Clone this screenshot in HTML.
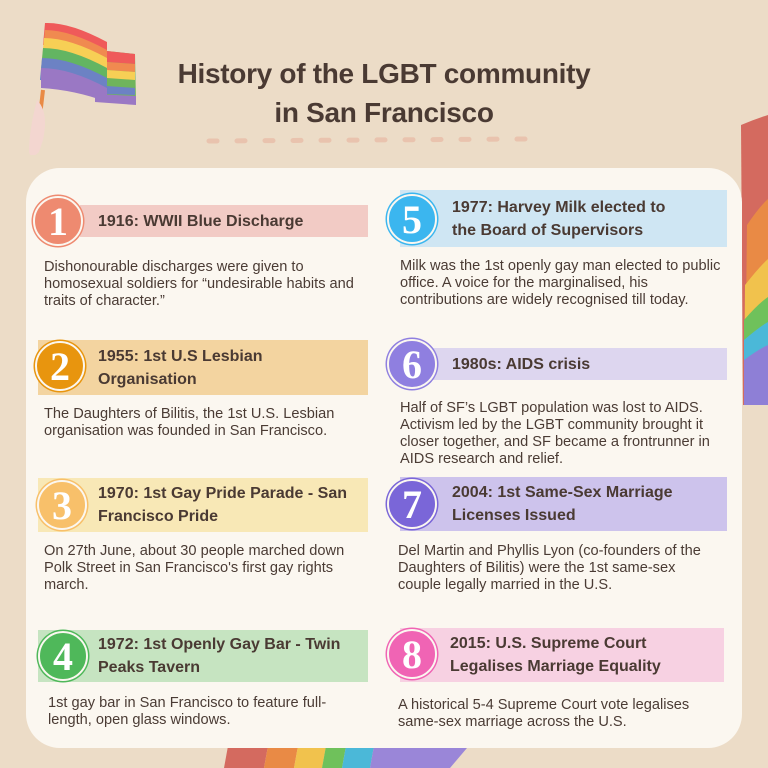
<!DOCTYPE html>
<html><head><meta charset="utf-8"><style>
*{margin:0;padding:0;box-sizing:border-box}
body{width:768px;height:768px;background:#ecdcc7;position:relative;overflow:hidden;font-family:"Liberation Sans",sans-serif;color:#4a3b34}
.abs{position:absolute}
h1{position:absolute;left:0;width:768px;top:54px;text-align:center;font-size:28px;line-height:39px;font-weight:bold;color:#4a3a33;letter-spacing:-0.3px}
.card{left:26px;top:168px;width:716px;height:580px;background:#fbf7f0;border-radius:34px}
.bar{position:absolute;font-weight:bold;font-size:16px;line-height:23px;color:#4a3a33;display:flex;align-items:center}
.badge{position:absolute;width:50px;height:50px;border-radius:50%;border:2px solid #fbf7f0;box-shadow:0 0 0 1.5px currentColor;display:flex;align-items:center;justify-content:center;font-family:"Liberation Serif",serif;font-weight:bold;font-size:40px;color:#fff}
.badge span{color:#fff}
.txt{position:absolute;font-size:14.6px;line-height:17px;color:#4a3b34}
</style></head><body>
<svg class="abs" style="left:735px;top:115px" width="33" height="290">
<path d="M6 10 Q20 4 33 0 L33 290 L8 290 Z" fill="#d46a5f"/>
<path d="M12 110 Q24 92 33 84 L33 290 L10 290 Z" fill="#e98a45"/>
<path d="M10 170 Q24 152 33 144 L33 290 L9 290Z" fill="#f1c24d"/>
<path d="M9 205 Q24 188 33 182 L33 290 L9 290Z" fill="#6fc15b"/>
<path d="M9 225 Q24 212 33 207 L33 290 L9 290Z" fill="#4bb8d8"/>
<path d="M9 245 Q24 234 33 230 L33 290 L9 290Z" fill="#8e7fd6"/>
</svg>
<svg class="abs" style="left:210px;top:735px" width="280" height="33">
<path d="M14 33 L20 0 L60 0 L54 33Z" fill="#d46a5f"/>
<path d="M54 33 L60 0 L90 0 L84 33Z" fill="#e98a45"/>
<path d="M84 33 L90 0 L118 0 L112 33Z" fill="#f1c24d"/>
<path d="M112 33 L118 0 L138 0 L132 33Z" fill="#6fc15b"/>
<path d="M132 33 L138 0 L166 0 L160 33Z" fill="#4bb8d8"/>
<path d="M160 33 L166 0 L268 0 L240 33Z" fill="#9a86d8"/>
</svg>
<div class="abs card"></div>
<svg class="abs" style="left:15px;top:20px" width="125" height="135">
<path d="M28 70 L22 122" stroke="#e98a45" stroke-width="4"/>
<path d="M22 80 Q34 92 28 120 L24 132 Q16 140 14 132 Q14 110 22 80Z" fill="#f3d6d0"/>
<g>
<path d="M30 3 Q55 2 92 22 L92 42 Q60 22 28 25Z" fill="#ef5a5a"/>
<path d="M30 10 Q55 10 92 30 L92 50 Q60 30 28 32Z" fill="#f08a50"/>
<path d="M29 18 Q55 18 92 38 L92 58 Q60 40 27 40Z" fill="#f7cf55"/>
<path d="M28 28 Q55 28 92 48 L92 68 Q60 50 26 50Z" fill="#63b562"/>
<path d="M27 38 Q55 38 92 58 L92 78 Q60 60 25 60Z" fill="#6c82c4"/>
<path d="M26 48 Q55 48 92 68 L92 82 Q60 70 26 68Z" fill="#9a78c4"/>
<path d="M92 31 L120 34 L121 82 L92 80Z" fill="#6fb45c"/>
<path d="M92 31 L120 34 L120 44 L92 42Z" fill="#ef5a5a"/>
<path d="M92 42 L120 44 L120 52 L92 50Z" fill="#f08a50"/>
<path d="M92 50 L120 52 L120 60 L92 58Z" fill="#f7cf55"/>
<path d="M92 66 L120 68 L120 75 L92 74Z" fill="#6c82c4"/>
<path d="M80 74 L121 76 L121 85 L80 82Z" fill="#9a78c4"/>
</g>
</svg>
<h1>History of the LGBT community<br>in San Francisco</h1>
<svg class="abs" style="left:205px;top:134px" width="340" height="12">
<path d="M4 7 L320 5" stroke="#e9c3ae" stroke-width="5" stroke-linecap="round" stroke-dasharray="8 20"/>
</svg>

<div class="bar" style="left:80px;top:205px;width:288px;height:32px;background:#f2cbc5;padding-left:18px">1916: WWII Blue Discharge</div>
<div class="badge" style="left:33px;top:196px;background:#ee8a70;color:#ee8a70"><span>1</span></div>
<div class="txt" style="left:44px;top:259px">Dishonourable discharges were given to<br>homosexual soldiers for “undesirable habits and<br>traits of character.”</div>

<div class="bar" style="left:38px;top:340px;width:330px;height:55px;background:#f3d4a0;padding-left:60px">1955: 1st U.S Lesbian<br>Organisation</div>
<div class="badge" style="left:35px;top:341px;background:#e8950e;color:#e8950e"><span>2</span></div>
<div class="txt" style="left:44px;top:406px">The Daughters of Bilitis, the 1st U.S. Lesbian<br>organisation was founded in San Francisco.</div>

<div class="bar" style="left:38px;top:478px;width:330px;height:54px;background:#f8e8b6;padding-left:60px">1970: 1st Gay Pride Parade - San<br>Francisco Pride</div>
<div class="badge" style="left:37px;top:480px;background:#f8c06a;color:#f8c06a"><span>3</span></div>
<div class="txt" style="left:44px;top:543px">On 27th June, about 30 people marched down<br>Polk Street in San Francisco's first gay rights<br>march.</div>

<div class="bar" style="left:38px;top:630px;width:330px;height:52px;background:#c6e4c1;padding-left:60px">1972: 1st Openly Gay Bar - Twin<br>Peaks Tavern</div>
<div class="badge" style="left:38px;top:631px;background:#4fb85a;color:#4fb85a"><span>4</span></div>
<div class="txt" style="left:48px;top:695px">1st gay bar in San Francisco to feature full-<br>length, open glass windows.</div>

<div class="bar" style="left:400px;top:190px;width:327px;height:57px;background:#cfe6f3;padding-left:52px">1977: Harvey Milk elected to<br>the Board of Supervisors</div>
<div class="badge" style="left:387px;top:194px;background:#3bb6ef;color:#3bb6ef"><span>5</span></div>
<div class="txt" style="left:400px;top:258px">Milk was the 1st openly gay man elected to public<br>office. A voice for the marginalised, his<br>contributions are widely recognised till today.</div>

<div class="bar" style="left:400px;top:348px;width:327px;height:32px;background:#ddd6ef;padding-left:52px">1980s: AIDS crisis</div>
<div class="badge" style="left:387px;top:339px;background:#8f7fe0;color:#8f7fe0"><span>6</span></div>
<div class="txt" style="left:400px;top:400px">Half of SF’s LGBT population was lost to AIDS.<br>Activism led by the LGBT community brought it<br>closer together, and SF became a frontrunner in<br>AIDS research and relief.</div>

<div class="bar" style="left:400px;top:477px;width:327px;height:54px;background:#cdc3ec;padding-left:52px">2004: 1st Same-Sex Marriage<br>Licenses Issued</div>
<div class="badge" style="left:387px;top:479px;background:#7a66d8;color:#7a66d8"><span>7</span></div>
<div class="txt" style="left:398px;top:543px">Del Martin and Phyllis Lyon (co-founders of the<br>Daughters of Bilitis) were the 1st same-sex<br>couple legally married in the U.S.</div>

<div class="bar" style="left:400px;top:628px;width:324px;height:54px;background:#f7d1e2;padding-left:50px">2015: U.S. Supreme Court<br>Legalises Marriage Equality</div>
<div class="badge" style="left:387px;top:629px;background:#f064b4;color:#f064b4"><span>8</span></div>
<div class="txt" style="left:398px;top:697px">A historical 5-4 Supreme Court vote legalises<br>same-sex marriage across the U.S.</div>
</body></html>
